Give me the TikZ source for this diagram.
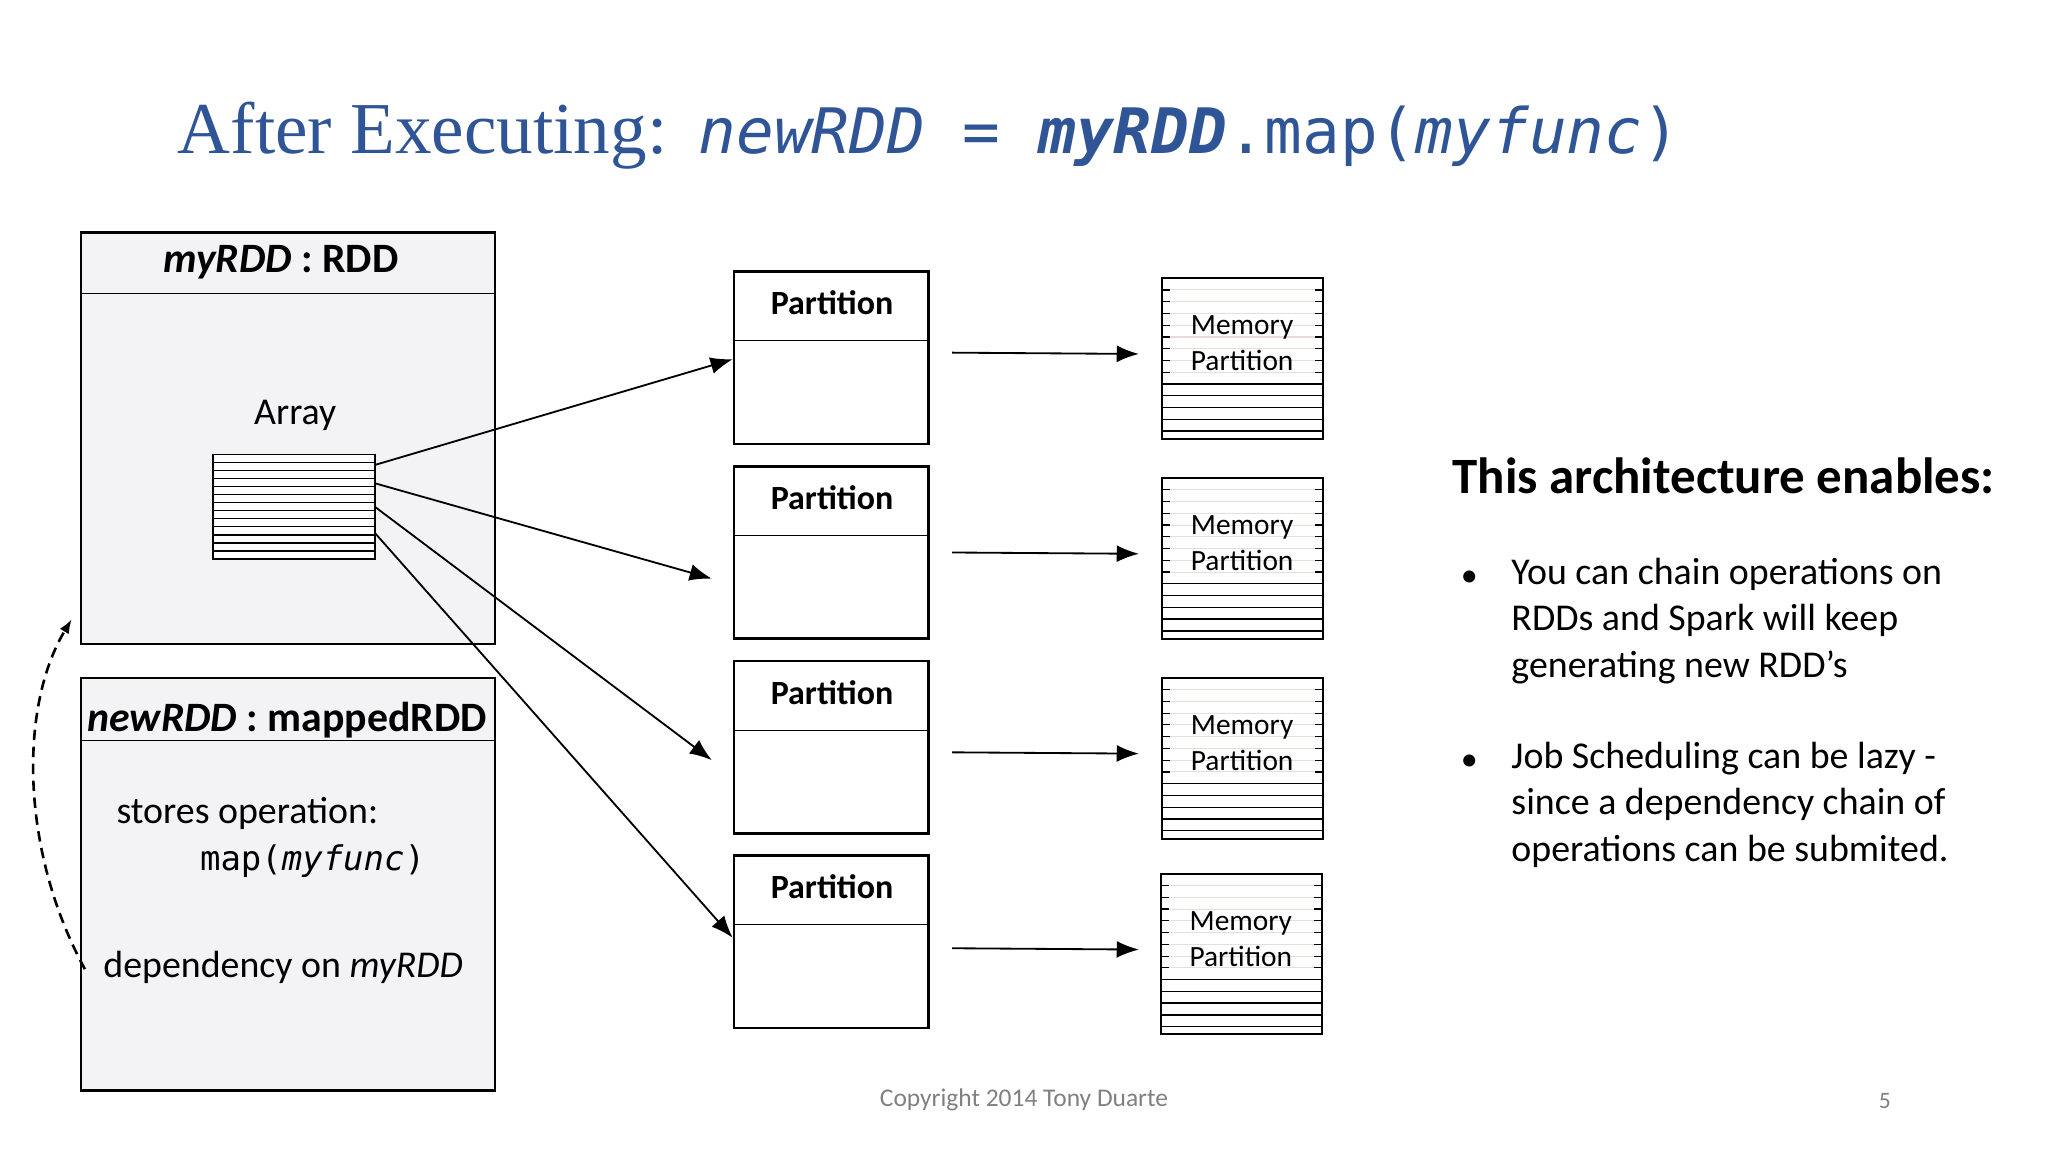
\documentclass[tikz,border=0pt]{standalone}
\usepackage{fontspec}
\setmainfont{Carlito}
\newfontfamily\ttmono{DejaVu Sans Mono}
\newfontfamily\serifx{Liberation Serif}
\usetikzlibrary{arrows.meta}
\definecolor{ttl}{HTML}{2F5597}
\definecolor{boxbg}{HTML}{F3F2F5}
\begin{document}
\begin{tikzpicture}[x=1pt,y=-1pt,
  box/.style={draw,line width=2pt,fill=boxbg},
  part/.style={draw,line width=2pt,fill=white},
  arr/.style={-{Latex[length=17pt,width=13pt]},line width=1.4pt},
  body/.style={font=\fontsize{29}{35}\selectfont,align=left,anchor=west,inner sep=0}]
\useasboundingbox (0,0) rectangle (1568,882);
% title
\node[anchor=west,inner sep=0,text=ttl] (title) at (136,104) {\fontsize{56}{60}\selectfont\serifx After Executing:\hspace{24pt}\ttmono\fontsize{48}{56}\selectfont\itshape newRDD \upshape=\ \bfseries\itshape myRDD\mdseries\upshape.map(\itshape myfunc\upshape)};
% myRDD box
\draw[box] (62,178) rectangle (379,493);
\draw[line width=0.8pt] (62,225) -- (379,225);
\node[inner sep=0] (myh) at (215,201) {\fontsize{32}{36}\selectfont\bfseries\itshape myRDD\upshape\ : RDD};
\node[inner sep=0] (arrl) at (226,318) {\fontsize{29}{34}\selectfont Array};
\draw[fill=white,line width=1.2pt] (163,348) rectangle (287,428);
\foreach \i in {1,...,12} \draw[line width=1pt] (163,348+\i*6.15) -- (287,348+\i*6.15);
\coordinate (a1) at (287,356);
\coordinate (a2) at (287,370);
\coordinate (a3) at (287,388);
\coordinate (a4) at (287,408);
% newRDD box
\draw[box] (62,519) rectangle (379,835);
\draw[line width=0.8pt] (62,567) -- (379,567);
\node[inner sep=0] (nh) at (220,551) {\fontsize{32}{36}\selectfont\bfseries\itshape newRDD\upshape\ : mappedRDD};
\node[body] (so) at (89,623) {stores operation:};
\node[body] (mp) at (153,659) {\ttmono\fontsize{26}{30}\selectfont map(\itshape myfunc\upshape)};
\node[body] (dep) at (79,741) {dependency on \itshape myRDD};
\coordinate (ds) at (65,742);
\coordinate (de) at (55,474);
\draw[line width=2pt,-{Latex[length=11pt,width=8pt]},dash pattern=on 8pt off 5pt] (ds) .. controls (15,650) and (15,540) .. (de);
% partitions
\foreach \y [count=\k] in {208,357,506,655}{
  \draw[part] (562,\y) rectangle (711,\y+132);
  \draw[line width=0.8pt] (562,\y+53) -- (711,\y+53);
  \node[inner sep=0] (p\k) at (637,\y+24) {\fontsize{26}{30}\selectfont\bfseries Partition};
}
\coordinate (t1) at (561,275);
\coordinate (t2) at (545,443);
\coordinate (t3) at (545,582);
\coordinate (t4) at (561,718);
\foreach \k in {1,...,4} \draw[arr] (a\k) -- (t\k);
% memory partitions
\foreach \y/\x [count=\k] in {213/890,366/890,519/890,669/889}{
  \draw[fill=white,line width=1.5pt] (\x,\y) rectangle (\x+123,\y+123);
  \foreach \j in {1,...,8} \draw[pink!60!gray!40,line width=0.8pt] (\x,\y+\j*9) -- (\x+123,\y+\j*9);
  \foreach \j in {1,...,8} {\draw[line width=0.9pt] (\x,\y+\j*9) -- (\x+6,\y+\j*9); \draw[line width=0.9pt] (\x+117,\y+\j*9) -- (\x+123,\y+\j*9);}
  \foreach \j in {9,...,13} \draw[line width=1pt] (\x,\y+\j*9) -- (\x+123,\y+\j*9);
  \node[inner sep=0,align=center,font=\fontsize{22.5}{27.5}\selectfont] (m\k) at (\x+61,\y+50) {Memory\\Partition};
  \coordinate (ms\k) at (729,\y+57);
  \coordinate (me\k) at (872,\y+58);
  \draw[arr] (ms\k) -- (me\k);
}
% right text
\node[inner sep=0,anchor=west] (hd) at (1112,364) {\fontsize{39}{44}\selectfont\bfseries This architecture enables:};
\node[inner sep=0] (b1) at (1125,443) {\fontsize{26}{28}\selectfont •};
\node[body,font=\fontsize{29}{35.5}\selectfont,anchor=north west] (t1x) at (1157,427) {You can chain operations on\\RDDs and Spark will keep\\generating new RDD's};
\node[inner sep=0] (b2) at (1125,584) {\fontsize{26}{28}\selectfont •};
\node[body,font=\fontsize{29}{35.5}\selectfont,anchor=north west] (t2x) at (1157,568) {Job Scheduling can be lazy -\\since a dependency chain of\\operations can be submited.};
% footer
\node[inner sep=0,text=gray] (cp) at (784,842) {\fontsize{19.5}{22}\selectfont Copyright 2014 Tony Duarte};
\node[inner sep=0,text=gray] (pg) at (1443,843) {\fontsize{18}{22}\selectfont 5};
\end{tikzpicture}
\end{document}
